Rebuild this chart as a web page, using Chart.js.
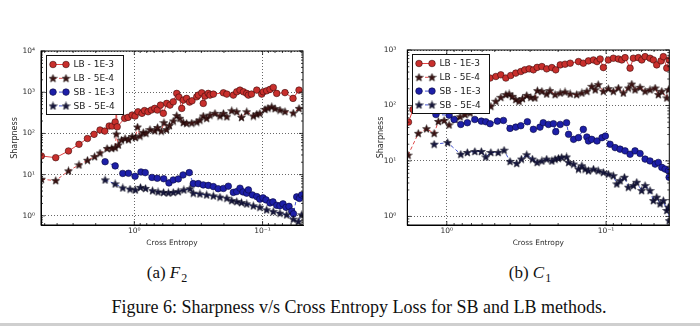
<!DOCTYPE html>
<html>
<head>
<meta charset="utf-8">
<title>Sharpness v/s Cross Entropy</title>
<script src="https://cdn.jsdelivr.net/npm/chart.js@4.4.1/dist/chart.umd.min.js"></script>
<style>
  html, body { margin: 0; padding: 0; background: #fff; }
  body { position: relative; width: 700px; height: 326px; overflow: hidden; }
  canvas.panel { position: absolute; top: 30px; }
  #chartA { left: 0; }
  #chartB { left: 350px; }
  .serif { position: absolute; font-family: "Liberation Serif", "Times New Roman", serif; color: #111; white-space: nowrap; line-height: 1; }
  .sub { font-size: 17px; top: 264px; transform: translateX(-50%); }
  .sub i { font-style: italic; }
  .sub .ix { font-size: 12px; position: relative; top: 4px; margin-left: 1px; }
  #capA { left: 167px; }
  #capB { left: 530px; }
  #figcap { font-size: 18px; top: 298px; left: 359px; transform: translateX(-50%); }
  #rule { position: absolute; left: 0; top: 323px; width: 700px; height: 3px; background: #cfcfcf; }
</style>
</head>
<body>
<canvas id="chartA" class="panel" width="350" height="225"></canvas>
<canvas id="chartB" class="panel" width="350" height="225"></canvas>
<div class="serif sub" id="capA">(a) <i>F</i><span class="ix">2</span></div>
<div class="serif sub" id="capB">(b) <i>C</i><span class="ix">1</span></div>
<div class="serif" id="figcap">Figure 6: Sharpness v/s Cross Entropy Loss for SB and LB methods.</div>
<div id="rule"></div>
<script>
// ---------- (a) F2 : cross entropy (x) and sharpness (y) per run ----------
const f2_lb1e3_ce = [5.31,4.10,3.26,2.70,2.32,2.06,1.85,1.70,1.57,1.49,1.41,1.39,1.36,1.19,1.12,1.04,0.987,0.936,0.871,0.833,0.782,0.737,0.693,0.662,0.625,0.594,0.559,0.527,0.497,0.467,0.449,0.427,0.415,0.391,0.371,0.355,0.326,0.317,0.298,0.290,0.281,0.265,0.257,0.242,0.202,0.190,0.169,0.159,0.150,0.141,0.133,0.129,0.122,0.111,0.1016,0.0988,0.0929,0.0875,0.0825,0.0776,0.0669,0.0579,0.0520];
const f2_lb1e3_sharp = [28.4,25.8,37.5,54.5,75.3,95.1,121,114,151,151,189,600,145,232,245,279,264,335,307,358,335,369,405,369,487,307,535,487,586,935,761,405,644,708,576,619,774,851,967,535,805,935,851,899,967,899,851,1023,1124,1023,935,851,899,1124,899,1023,1081,1169,1306,935,978,708,1124];

const f2_lb5e4_ce = [5.29,4.10,3.26,2.70,2.32,2.04,1.85,1.63,1.50,1.41,1.38,1.33,1.26,1.18,1.11,1.04,0.982,0.944,0.903,0.851,0.811,0.755,0.693,0.659,0.616,0.587,0.561,0.532,0.497,0.467,0.441,0.415,0.391,0.357,0.326,0.308,0.290,0.273,0.257,0.235,0.215,0.202,0.190,0.174,0.159,0.146,0.133,0.118,0.111,0.105,0.0958,0.0908,0.0849,0.0800,0.0732,0.0669,0.0576,0.0520];
const f2_lb5e4_sharp = [7.74,7.16,12.3,17.2,22.3,27.3,33.5,43.1,43.6,45.1,96.7,52.4,69.2,75.3,70.4,84.1,79.6,143,86.5,105,101,124,116,139,114,182,124,155,200,271,232,184,176,179,189,211,264,232,279,307,264,307,254,355,335,245,335,264,295,307,383,412,443,401,369,339,312,405];

const f2_sb1e3_ce = [1.69,1.41,1.23,1.11,0.987,0.887,0.822,0.728,0.662,0.590,0.537,0.497,0.454,0.417,0.373,0.347,0.317,0.290,0.265,0.242,0.222,0.202,0.185,0.169,0.159,0.150,0.142,0.133,0.129,0.120,0.111,0.105,0.0993,0.0940,0.0875,0.0830,0.0776,0.0732,0.0693,0.0657,0.0622,0.0593,0.0574,0.0542,0.0516,0.0496];
const f2_sb1e3_sharp = [20.6,16.3,10.7,10.8,9.15,11.6,11.2,8.55,8.18,7.96,6.30,7.44,7.87,9.84,11.2,6.05,6.05,5.63,5.48,5.12,4.56,4.63,5.24,3.71,3.88,4.69,3.81,3.55,4.26,3.22,2.93,2.54,2.73,2.44,2.06,2.18,1.80,1.75,1.95,1.61,1.70,1.29,1.12,2.88,2.65,3.22];

const f2_sb5e4_ce = [1.69,1.41,1.23,1.08,0.982,0.895,0.818,0.721,0.653,0.592,0.542,0.497,0.454,0.411,0.368,0.347,0.308,0.273,0.242,0.215,0.190,0.174,0.159,0.146,0.133,0.118,0.105,0.0929,0.0825,0.0732,0.0649,0.0576,0.0527,0.0496];
const f2_sb5e4_sharp = [7.44,5.96,4.76,4.46,4.26,4.90,4.63,4.08,3.81,3.71,3.61,3.71,3.88,4.26,4.56,3.55,3.41,3.22,3.05,2.84,2.68,2.35,2.22,2.10,1.95,1.75,1.62,1.40,1.27,1.16,1.06,0.832,0.728,1.06];

// ---------- (b) C1 ----------
const c1_lb1e3_ce = [1.74,1.63,1.47,1.27,1.10,0.953,0.825,0.714,0.618,0.535,0.492,0.458,0.426,0.397,0.369,0.343,0.324,0.304,0.286,0.271,0.253,0.236,0.219,0.207,0.194,0.181,0.168,0.149,0.139,0.129,0.120,0.114,0.109,0.104,0.0968,0.0900,0.0837,0.0797,0.0760,0.0707,0.0674,0.0627,0.0597,0.0569,0.0530,0.0505,0.0481,0.0452,0.0437,0.0416,0.0402];
const c1_lb1e3_sharp = [50.1,84.5,117,144,163,192,218,246,268,312,333,357,312,347,383,409,439,457,439,486,503,457,482,439,539,555,578,618,578,636,662,618,690,482,662,711,690,662,728,471,711,728,662,759,711,662,539,636,759,471,662];

const c1_lb5e4_ce = [1.75,1.51,1.34,1.20,1.13,1.04,0.967,0.887,0.825,0.768,0.714,0.655,0.600,0.529,0.492,0.458,0.426,0.406,0.388,0.369,0.352,0.335,0.315,0.297,0.280,0.270,0.253,0.236,0.225,0.209,0.194,0.181,0.168,0.153,0.142,0.132,0.123,0.117,0.112,0.104,0.0968,0.0900,0.0837,0.0779,0.0725,0.0690,0.0658,0.0612,0.0569,0.0530,0.0492,0.0470,0.0447,0.0416,0.0406];
const c1_lb5e4_sharp = [12.7,31.4,38.1,31.4,51.5,53.7,44.6,55.9,62.5,68.7,73.1,84.5,99.6,96.8,119,140,157,161,146,128,119,133,152,140,137,185,180,161,185,157,168,175,161,157,168,180,221,192,237,180,201,180,206,168,206,243,192,212,180,192,206,157,180,137,192];

const c1_sb1e3_ce = [1.17,0.967,0.900,0.817,0.743,0.667,0.607,0.569,0.535,0.481,0.441,0.401,0.369,0.343,0.312,0.286,0.260,0.248,0.230,0.214,0.207,0.194,0.177,0.172,0.160,0.149,0.139,0.132,0.129,0.123,0.114,0.106,0.101,0.0944,0.0878,0.0817,0.0760,0.0707,0.0658,0.0612,0.0569,0.0530,0.0492,0.0470,0.0447,0.0426,0.0406,0.0402];
const c1_sb1e3_sharp = [68.7,66.8,55.9,45.5,48.9,55.9,52.2,50.9,46.9,52.2,53.7,38.6,40.7,43.2,50.9,37.1,40.7,48.9,45.5,46.9,33.7,45.5,48.9,30.2,24.5,26.3,37.1,27.0,22.9,24.5,22.9,26.3,28.1,20.0,17.4,16.3,15.2,13.2,15.2,13.6,10.8,10.0,8.77,9.40,7.65,7.13,6.65,5.07];

const c1_sb5e4_ce = [1.20,0.988,0.817,0.743,0.667,0.607,0.569,0.529,0.476,0.437,0.401,0.364,0.340,0.315,0.290,0.271,0.253,0.236,0.219,0.209,0.199,0.190,0.177,0.172,0.160,0.149,0.142,0.1355,0.129,0.120,0.112,0.104,0.0968,0.0900,0.0857,0.0817,0.0767,0.0725,0.0674,0.0642,0.0598,0.0569,0.0530,0.0505,0.0481,0.0458,0.0437,0.0416,0.0406,0.0402];
const c1_sb5e4_sharp = [20.0,21.4,13.2,14.2,14.8,14.8,11.8,14.2,14.2,15.6,9.80,9.02,10.8,12.9,10.8,9.40,10.0,10.8,10.0,10.8,11.2,11.6,11.8,9.40,8.77,7.13,8.17,7.13,6.65,7.13,6.65,6.23,5.81,5.41,3.85,4.40,5.07,3.36,3.59,4.12,2.92,3.59,2.92,1.93,2.22,1.69,1.93,1.28,1.47,0.838];

// axis limits
const f2_ceRange = [0.0484, 5.34];
const f2_sharpRange = [0.605, 10000];
const c1_ceRange = [0.0401, 1.77];
const c1_sharpRange = [0.74, 1000];

const seriesLabels = ['LB - 1E-3', 'LB - 5E-4', 'SB - 1E-3', 'SB - 5E-4'];

// ---------- helpers ----------
Chart.defaults.font.family = '"DejaVu Sans", "Liberation Sans", sans-serif';

const SUP = { '-': '\u207B', '0': '\u2070', '1': '\u00B9', '2': '\u00B2', '3': '\u00B3', '4': '\u2074', '5': '\u2075', '6': '\u2076', '7': '\u2077', '8': '\u2078', '9': '\u2079' };

function isDecade(v) {
  const l = Math.log10(v);
  return Math.abs(l - Math.round(l)) < 1e-6;
}
function decadeLabel(v) {
  if (!isDecade(v)) return '';
  const e = String(Math.round(Math.log10(v)));
  return '10' + e.split('').map(ch => SUP[ch]).join('');
}
// every 1..9 x 10^n value inside the axis range
function logTicks(min, max) {
  const out = [];
  for (let e = Math.floor(Math.log10(min)) - 1; e <= Math.ceil(Math.log10(max)); e++) {
    for (let m = 1; m <= 9; m++) {
      const v = m * Math.pow(10, e);
      if (v >= min * 0.99999 && v <= max * 1.00001) out.push({ value: v, major: m === 1 });
    }
  }
  return out;
}
function pairs(ce, sh) { return ce.map((c, i) => ({ x: c, y: sh[i] })); }

function starMarker(fill, edge) {
  const c = document.createElement('canvas');
  c.width = 9; c.height = 9;
  const g = c.getContext('2d');
  g.translate(4.5, 4.8);
  g.beginPath();
  for (let i = 0; i < 10; i++) {
    const r = i % 2 ? 1.75 : 4.1;
    const a = -Math.PI / 2 + i * Math.PI / 5;
    g.lineTo(r * Math.cos(a), r * Math.sin(a));
  }
  g.closePath();
  g.fillStyle = fill; g.fill();
  g.lineWidth = 0.6; g.strokeStyle = edge; g.stroke();
  return c;
}
const starDark = starMarker('#3a1313', '#120303');
const starNavy = starMarker('#16163c', '#05051a');

function buildDatasets(lb1, lb5, sb1, sb5) {
  return [
    { label: seriesLabels[0], data: lb1, showLine: true, order: 3,
      borderColor: '#df4343', borderWidth: 1, borderDash: [],
      pointStyle: 'circle', pointRadius: 3.3, pointBackgroundColor: '#c82f2c', pointBorderColor: '#3d0c0c', pointBorderWidth: 0.6 },
    { label: seriesLabels[1], data: lb5, showLine: true, order: 2,
      borderColor: '#df4a4a', borderWidth: 1, borderDash: [3.5, 2.5],
      pointStyle: starDark, pointRadius: 3.5 },
    { label: seriesLabels[2], data: sb1, showLine: true, order: 1,
      borderColor: '#4353cf', borderWidth: 1, borderDash: [3.5, 2.5],
      pointStyle: 'circle', pointRadius: 3.3, pointBackgroundColor: '#1d1fa8', pointBorderColor: '#08083a', pointBorderWidth: 0.6 },
    { label: seriesLabels[3], data: sb5, showLine: true, order: 0,
      borderColor: '#4353cf', borderWidth: 1, borderDash: [3.5, 2.5],
      pointStyle: starNavy, pointRadius: 3.5 }
  ];
}

function drawMarker(ctx, ds, x, y) {
  if (typeof ds.pointStyle === 'object') {
    const s = ds.pointStyle;
    ctx.drawImage(s, x - s.width / 2, y - s.height / 2);
  } else {
    ctx.beginPath();
    ctx.arc(x, y, ds.pointRadius, 0, Math.PI * 2);
    ctx.fillStyle = ds.pointBackgroundColor; ctx.fill();
    ctx.lineWidth = ds.pointBorderWidth; ctx.strokeStyle = ds.pointBorderColor; ctx.stroke();
  }
}

// frame, inward tick marks and the boxed legend, painted over the data
const axesDecor = {
  id: 'axesDecor',
  afterDatasetsDraw(chart) {
    const { ctx, chartArea: a, scales: { x, y } } = chart;
    ctx.save();
    ctx.setLineDash([]);
    ctx.strokeStyle = '#111'; ctx.lineWidth = 0.8;
    ctx.beginPath();
    x.ticks.forEach(t => {
      const p = x.getPixelForValue(t.value);
      const len = isDecade(t.value) ? 4 : 2;
      ctx.moveTo(p, a.bottom); ctx.lineTo(p, a.bottom - len);
      ctx.moveTo(p, a.top); ctx.lineTo(p, a.top + len);
    });
    y.ticks.forEach(t => {
      const p = y.getPixelForValue(t.value);
      const len = isDecade(t.value) ? 4 : 2;
      ctx.moveTo(a.left, p); ctx.lineTo(a.left + len, p);
      ctx.moveTo(a.right, p); ctx.lineTo(a.right - len, p);
    });
    ctx.stroke();
    ctx.strokeStyle = '#000'; ctx.lineWidth = 1;
    ctx.strokeRect(a.left, a.top, a.right - a.left, a.bottom - a.top);

    // legend box
    const bx = Math.round(a.left + 5) + 0.5, by = Math.round(a.top + 4) + 0.5, bw = 77, bh = 59;
    ctx.fillStyle = '#fff';
    ctx.fillRect(bx, by, bw, bh);
    ctx.strokeStyle = '#111'; ctx.lineWidth = 1;
    ctx.strokeRect(bx, by, bw, bh);
    chart.data.datasets.forEach((ds, i) => {
      const yy = by + 9 + i * 13.8;
      const x1 = bx + 6.5, x2 = bx + 19.5;
      ctx.setLineDash(ds.borderDash || []);
      ctx.strokeStyle = ds.borderColor; ctx.lineWidth = ds.borderWidth;
      ctx.beginPath(); ctx.moveTo(x1, yy); ctx.lineTo(x2, yy); ctx.stroke();
      ctx.setLineDash([]);
      drawMarker(ctx, ds, x1, yy);
      drawMarker(ctx, ds, x2, yy);
      ctx.fillStyle = '#1a1a1a';
      ctx.font = '9px "DejaVu Sans", sans-serif';
      ctx.textAlign = 'left'; ctx.textBaseline = 'middle';
      ctx.fillText(ds.label, bx + 27, yy + 0.5);
    });
    ctx.restore();
  }
};

function panelOptions(ceRange, sharpRange, box) {
  const gridColor = c => (c.tick && isDecade(c.tick.value)) ? 'rgba(0,0,0,0.75)' : 'rgba(0,0,0,0)';
  return {
    responsive: false, animation: false, devicePixelRatio: 1, events: [],
    layout: { padding: { left: 0, right: box.padRight, top: box.padTop, bottom: 0 } },
    plugins: { legend: { display: false }, tooltip: { enabled: false } },
    scales: {
      x: {
        type: 'logarithmic', position: 'bottom', reverse: true,
        min: ceRange[0], max: ceRange[1],
        afterBuildTicks: s => { s.ticks = logTicks(s.min, s.max); },
        afterFit: s => { s.height = 30; },
        grid: { color: gridColor, lineWidth: 0.8, drawTicks: false },
        border: { display: true, color: '#000', width: 1, dash: [1, 2] },
        ticks: { autoSkip: false, maxRotation: 0, minRotation: 0, padding: 2, color: '#2a2a2a',
                 font: { size: 7.5 }, callback: v => decadeLabel(v) },
        title: { display: true, text: 'Cross Entropy', color: '#2a2a2a', font: { size: 7.4 },
                 padding: { top: 0, bottom: 7 } }
      },
      y: {
        type: 'logarithmic', position: 'left',
        min: sharpRange[0], max: sharpRange[1],
        afterBuildTicks: s => { s.ticks = logTicks(s.min, s.max); },
        afterFit: s => { s.width = box.yWidth; },
        grid: { color: gridColor, lineWidth: 0.8, drawTicks: false },
        border: { display: true, color: '#000', width: 1, dash: [1, 2] },
        ticks: { autoSkip: false, padding: box.yTickPad, color: '#2a2a2a',
                 font: { size: 7.5 }, callback: v => decadeLabel(v) },
        title: { display: true, text: 'Sharpness', color: '#2a2a2a', font: { size: 8 },
                 padding: { top: box.yTitlePad, bottom: 0 } }
      }
    }
  };
}

new Chart(document.getElementById('chartA'), {
  type: 'scatter',
  data: { datasets: buildDatasets(
    pairs(f2_lb1e3_ce, f2_lb1e3_sharp), pairs(f2_lb5e4_ce, f2_lb5e4_sharp),
    pairs(f2_sb1e3_ce, f2_sb1e3_sharp), pairs(f2_sb5e4_ce, f2_sb5e4_sharp)) },
  options: panelOptions(f2_ceRange, f2_sharpRange, { padRight: 47, padTop: 21, yWidth: 41, yTickPad: 6, yTitlePad: 10.2 }),
  plugins: [axesDecor]
});

new Chart(document.getElementById('chartB'), {
  type: 'scatter',
  data: { datasets: buildDatasets(
    pairs(c1_lb1e3_ce, c1_lb1e3_sharp), pairs(c1_lb5e4_ce, c1_lb5e4_sharp),
    pairs(c1_sb1e3_ce, c1_sb1e3_sharp), pairs(c1_sb5e4_ce, c1_sb5e4_sharp)) },
  options: panelOptions(c1_ceRange, c1_sharpRange, { padRight: 30.7, padTop: 20, yWidth: 57.3, yTickPad: 11, yTitlePad: 25.7 }),
  plugins: [axesDecor]
});
</script>
</body>
</html>
